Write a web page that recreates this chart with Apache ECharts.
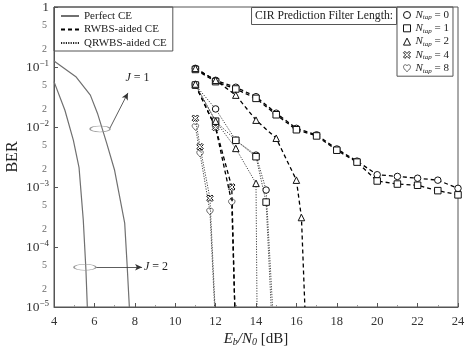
<!DOCTYPE html>
<html><head><meta charset="utf-8">
<script src="https://cdn.jsdelivr.net/npm/echarts@6/dist/echarts.min.js"></script>
<style>html,body{margin:0;padding:0;background:#fff}#c{width:474px;height:348px}</style>
</head><body><div id="c"></div>
<script>
const FONT = "'Liberation Serif', 'DejaVu Serif', serif";

// ---- axis ticks ----
const yMinorTicks = [0.5, 0.2, 0.05, 0.02, 0.005, 0.002, 0.0005, 0.0002, 0.00005, 0.00002];
const yMinorLabels = ['5', '2', '5', '2', '5', '2', '5', '2', '5', '2'];

// ---- Perfect CE ----
const perfectJ1X = [4, 5.1, 5.8, 6.15, 6.6, 7.0, 7.5, 7.62, 7.73];
const perfectJ1Y = [0.126, 0.068, 0.034, 0.017, 0.0055, 0.0019, 0.00025, 0.00005, 0.00001];
const perfectJ2X = [4, 4.54, 4.96, 5.24, 5.45, 5.58, 5.65];
const perfectJ2Y = [0.057, 0.019, 0.006, 0.0021, 0.00028, 0.000042, 0.00001];

// ---- RWBS-aided CE (dashed) ----
const rwbsUpperX = [11, 12, 13, 14, 15, 16, 17, 18, 19, 20, 21, 22, 23, 24];
const rwbsN0Y = [0.095, 0.060, 0.046, 0.032, 0.017, 0.0095, 0.0074, 0.0043, 0.0027, 0.0016, 0.0015, 0.0014, 0.0013, 0.00095];
const rwbsN1Y = [0.091, 0.057, 0.043, 0.030, 0.016, 0.0090, 0.0071, 0.0041, 0.0026, 0.00126, 0.00112, 0.00107, 0.00087, 0.00074];
const rwbsN2X = [11, 12, 13, 14, 15, 16, 16.25, 16.42];
const rwbsN2Y = [0.095, 0.060, 0.034, 0.013, 0.0065, 0.0013, 0.00031, 0.00001];
const rwbsN4X = [11, 12, 12.8, 12.95];
const rwbsN4Y = [0.05, 0.0098, 0.001, 0.00001];
const rwbsN8X = [11, 12, 12.8, 12.95];
const rwbsN8Y = [0.05, 0.0098, 0.00055, 0.00001];

// ---- QRWBS-aided CE (dotted) ----
const qrwbsN0X = [11, 12, 13, 14, 14.5, 14.82];
const qrwbsN0Y = [0.05, 0.020, 0.006, 0.0034, 0.00089, 0.00001];
const qrwbsN1X = [11, 12, 13, 14, 14.5, 14.75];
const qrwbsN1Y = [0.05, 0.0125, 0.006, 0.0032, 0.00056, 0.00001];
const qrwbsN2X = [11, 12, 13, 14, 14.05];
const qrwbsN2Y = [0.052, 0.0125, 0.0044, 0.00115, 0.00001];
const qrwbsN4X = [11, 11.23, 11.72, 11.97];
const qrwbsN4Y = [0.014, 0.0047, 0.00065, 0.00001];
const qrwbsN8X = [11, 11.23, 11.72, 11.95];
const qrwbsN8Y = [0.010, 0.0036, 0.00039, 0.00001];

// ---- annotation anchors (data coordinates) ----
const j1Ellipse = [6.28, 0.0093], j1ArrowFrom = [6.77, 0.0096], j1ArrowTo = [7.66, 0.037], j1Text = [8.13, 0.066];
const j2Ellipse = [5.53, 0.000046], j2ArrowFrom = [6.08, 0.000046], j2ArrowTo = [8.36, 0.000046], j2Text = [8.45, 0.000046];

const SYM = {
  n0: 'circle',
  n1: 'rect',
  n2: 'triangle',
  n4: 'path://M2,0 L5,3 L8,0 L10,2 L7,5 L10,8 L8,10 L5,7 L2,10 L0,8 L3,5 L0,2 Z',
  n8: 'path://M5,10 C1,6.5 0,4.5 0,3 C0,1.2 1.4,0 2.8,0 C4,0 4.7,0.8 5,1.6 C5.3,0.8 6,0 7.2,0 C8.6,0 10,1.2 10,3 C10,4.5 9,6.5 5,10 Z'
};
const MCOL = {n0: '#111', n1: '#111', n2: '#111', n4: '#111', n8: '#666'};

function pairs(xs, ys) {
  return xs.map((x, i) => (ys[i] <= 0.00001 ? {value: [x, ys[i]], symbol: 'none'} : [x, ys[i]]));
}
function dataSeries(name, xs, ys, key, dashed) {
  return {
    name: name, type: 'line', data: pairs(xs, ys), symbol: SYM[key], symbolSize: 6.5,
    itemStyle: {color: '#fff', borderColor: MCOL[key], borderWidth: 1},
    lineStyle: dashed ? {color: '#000', width: 1.3, type: [4, 3]} : {color: '#444', width: 1, type: [1.2, 1.4]},
    z: key === 'n8' ? 3 : 4, animation: false, clip: true
  };
}
const lineLegendBase = {type: 'line', data: [], symbol: 'none',
  itemStyle: {color: 'rgba(0,0,0,0)', borderWidth: 0}};

const series = [
  Object.assign({}, lineLegendBase, {name: 'Perfect CE', lineStyle: {color: '#707070', width: 1.2}}),
  Object.assign({}, lineLegendBase, {name: 'RWBS-aided CE', lineStyle: {color: '#000', width: 1.2, type: [4, 3]}}),
  Object.assign({}, lineLegendBase, {name: 'QRWBS-aided CE', lineStyle: {color: '#222', width: 1.2, type: [1.2, 1.2]}}),
  {name: 'N0', type: 'line', data: [], itemStyle: {color: '#fff', borderColor: '#111', borderWidth: 1}},
  {name: 'N1', type: 'line', data: [], itemStyle: {color: '#fff', borderColor: '#111', borderWidth: 1}},
  {name: 'N2', type: 'line', data: [], itemStyle: {color: '#fff', borderColor: '#111', borderWidth: 1}},
  {name: 'N4', type: 'line', data: [], itemStyle: {color: '#fff', borderColor: '#111', borderWidth: 1}},
  {name: 'N8', type: 'line', data: [], itemStyle: {color: '#fff', borderColor: '#666', borderWidth: 1}},
  {
    name: 'perfectJ1', type: 'line', data: pairs(perfectJ1X, perfectJ1Y), symbol: 'none',
    lineStyle: {color: '#707070', width: 1.2}, animation: false,
    markPoint: {
      symbol: 'circle', symbolSize: [20, 6], silent: true,
      itemStyle: {color: 'rgba(0,0,0,0)', borderColor: '#999', borderWidth: 0.9},
      label: {show: false},
      data: [{coord: j1Ellipse}, {coord: j2Ellipse, symbolSize: [22, 6]},
        {coord: j1Text, symbolSize: 0, label: {show: true, position: 'inside', formatter: '{i|J} = 1', fontFamily: FONT, fontSize: 12, color: '#222', rich: {i: {fontStyle: 'italic', fontFamily: FONT, fontSize: 12}}}},
        {coord: j2Text, symbolSize: 0, label: {show: true, position: 'right', distance: 0, formatter: '{i|J} = 2', fontFamily: FONT, fontSize: 12, color: '#222', rich: {i: {fontStyle: 'italic', fontFamily: FONT, fontSize: 12}}}}]
    },
    markLine: {
      silent: true, symbol: ['none', 'arrow'], symbolSize: [5, 7],
      lineStyle: {color: '#333', width: 0.8, type: 'solid'}, label: {show: false},
      data: [[{coord: j1ArrowFrom}, {coord: j1ArrowTo}], [{coord: j2ArrowFrom}, {coord: j2ArrowTo}]]
    }
  },
  {name: 'perfectJ2', type: 'line', data: pairs(perfectJ2X, perfectJ2Y), symbol: 'none', lineStyle: {color: '#707070', width: 1.2}, animation: false},
  dataSeries('rwbsN0', rwbsUpperX, rwbsN0Y, 'n0', true),
  dataSeries('rwbsN1', rwbsUpperX, rwbsN1Y, 'n1', true),
  dataSeries('rwbsN2', rwbsN2X, rwbsN2Y, 'n2', true),
  dataSeries('rwbsN4', rwbsN4X, rwbsN4Y, 'n4', true),
  dataSeries('rwbsN8', rwbsN8X, rwbsN8Y, 'n8', true),
  dataSeries('qrwbsN0', qrwbsN0X, qrwbsN0Y, 'n0', false),
  dataSeries('qrwbsN1', qrwbsN1X, qrwbsN1Y, 'n1', false),
  dataSeries('qrwbsN2', qrwbsN2X, qrwbsN2Y, 'n2', false),
  dataSeries('qrwbsN4', qrwbsN4X, qrwbsN4Y, 'n4', false),
  dataSeries('qrwbsN8', qrwbsN8X, qrwbsN8Y, 'n8', false),
  {
    name: 'yMinor', type: 'scatter', symbol: 'rect', symbolSize: [0, 0], silent: true, clip: false,
    data: yMinorTicks.map((v, i) => ({value: [4, v], name: yMinorLabels[i]})),
    label: {show: true, position: 'left', distance: 7, formatter: p => p.name, fontFamily: FONT, fontSize: 10, color: '#444'},
    animation: false
  }
];

const tapNames = {N0: '0', N1: '1', N2: '2', N4: '4', N8: '8'};
const option = {
  animation: false,
  backgroundColor: '#fff',
  title: {
    text: 'CIR Prediction Filter Length:', right: 77, top: 7,
    padding: [3, 4, 3, 4], borderColor: '#555', borderWidth: 1,
    textStyle: {fontFamily: FONT, fontSize: 11.7, fontWeight: 'normal', color: '#222', lineHeight: 12}
  },
  grid: {left: 54, right: 16, top: 7, bottom: 41, show: true, borderColor: '#555', borderWidth: 1,
    containLabel: false, outerBoundsMode: 'none'},
  legend: [
    {
      data: ['Perfect CE', 'RWBS-aided CE', 'QRWBS-aided CE'], orient: 'vertical', left: 54, top: 7,
      padding: [3, 6, 2, 6], itemGap: 1.5, itemWidth: 18, itemHeight: 12,
      borderColor: '#555', borderWidth: 1, selectedMode: false,
      itemStyle: {color: 'rgba(0,0,0,0)', borderColor: 'rgba(0,0,0,0)', borderWidth: 0},
      textStyle: {fontFamily: FONT, fontSize: 11, color: '#222', lineHeight: 12, padding: [0, 0, 0, 0]}
    },
    {
      data: [{name: 'N0', icon: SYM.n0}, {name: 'N1', icon: SYM.n1}, {name: 'N2', icon: SYM.n2}, {name: 'N4', icon: SYM.n4}, {name: 'N8', icon: SYM.n8}],
      orient: 'vertical', left: 397, top: 7, width: 61,
      padding: [2, 4, 2, 6], itemGap: 1.3, itemWidth: 7, itemHeight: 7,
      borderColor: '#555', borderWidth: 1, selectedMode: false,
      itemStyle: {color: '#fff', borderWidth: 1},
      formatter: n => '{i|N}{sub|tap} = ' + tapNames[n],
      textStyle: {fontFamily: FONT, fontSize: 11, color: '#222', lineHeight: 12,
        rich: {i: {fontFamily: FONT, fontStyle: 'italic', fontSize: 11, lineHeight: 12},
               sub: {fontFamily: FONT, fontStyle: 'italic', fontSize: 7, lineHeight: 7, verticalAlign: 'bottom'}}}
    }
  ],
  xAxis: {
    type: 'value', min: 4, max: 24, interval: 2,
    name: '{i|E}{sub|b}{i|/N}{sub|0} [dB]', nameLocation: 'middle', nameGap: 24, nameMoveOverlap: false,
    nameTextStyle: {fontFamily: FONT, fontSize: 15, color: '#222',
      rich: {i: {fontFamily: FONT, fontStyle: 'italic', fontSize: 15, lineHeight: 16},
             sub: {fontFamily: FONT, fontStyle: 'italic', fontSize: 10, lineHeight: 10, verticalAlign: 'bottom'}}},
    axisLine: {lineStyle: {color: '#555', width: 1}},
    axisTick: {inside: true, length: 4, lineStyle: {color: '#555'}},
    minorTick: {show: true, splitNumber: 2, length: 2, lineStyle: {color: '#999'}},
    splitLine: {show: false},
    axisLabel: {fontFamily: FONT, fontSize: 12.5, color: '#333', margin: 8}
  },
  yAxis: {
    type: 'log', logBase: 10, min: 0.00001, max: 1,
    name: 'BER', nameLocation: 'middle', nameGap: 33, nameRotate: 90, nameMoveOverlap: false,
    nameTextStyle: {fontFamily: FONT, fontSize: 16, color: '#222'},
    axisLine: {lineStyle: {color: '#555', width: 1}},
    axisTick: {inside: true, length: 4, lineStyle: {color: '#555'}},
    splitLine: {show: false},
    axisLabel: {
      margin: 5, color: '#333',
      formatter: v => {
        const e = Math.round(Math.log10(v));
        return e === 0 ? '{b|1}' : '{b|10}{s|\u2212' + (-e) + '}';
      },
      rich: {b: {fontFamily: FONT, fontSize: 13.5, lineHeight: 15, color: '#333'},
             s: {fontFamily: FONT, fontSize: 9, lineHeight: 9, verticalAlign: 'top', color: '#333'}}
    }
  },
  series: series
};
const chart = echarts.init(document.getElementById('c'), null, {renderer: 'canvas'});
chart.setOption(option);
</script></body></html>
